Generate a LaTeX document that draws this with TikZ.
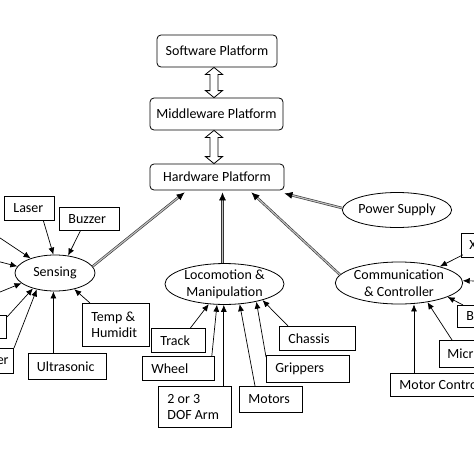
\documentclass[tikz,border=0pt]{standalone}
\usepackage{fontspec}
\setmainfont{Carlito}
\usetikzlibrary{shapes.geometric,arrows.meta,calc}
\begin{document}
\begin{tikzpicture}[x=1pt,y=-1pt,
  font=\fontsize{14}{15.5}\selectfont,
  bx/.style={draw, line width=0.8pt, rectangle, anchor=north west, inner xsep=9pt, inner ysep=0pt, align=flush left},
  plat/.style={draw, line width=0.8pt, rounded corners=4pt, inner sep=0pt, align=center},
  el/.style={draw, line width=0.8pt, ellipse, inner sep=0pt, align=center},
  darr/.style={draw, line width=0.8pt, fill=white, line join=miter},
  arr/.style={line width=0.7pt, -{Latex[length=7pt,width=6pt]}},
  dbl/.style={draw=black!80, line width=0.6pt, double=gray!50, double distance=1.2pt, -{Latex[length=8pt,width=7pt,black]}}
]
\useasboundingbox (0,0) rectangle (474,474);
\fill[white] (0,0) rectangle (474,474);
\clip (0,0) rectangle (474,474);

% platforms
\node[plat, minimum width=120pt, minimum height=32pt] (sw) at (217,51) {Software Platform};
\node[plat, minimum width=133pt, minimum height=32pt] (mw) at (216.5,114) {Middleware Platform};
\node[plat, minimum width=134pt, minimum height=26pt] (hw) at (217,177) {Hardware Platform};

% hollow double arrows between platforms
\coordinate (t1) at ([xshift=-3pt]sw.south);
\coordinate (b1) at ([xshift=-2.5pt]mw.north);
\coordinate (t2) at ([xshift=-2.5pt]mw.south);
\coordinate (b2) at ([xshift=-3pt]hw.north);
\draw[darr] (t1) -- ++(-8.5,7) -- ++(4.5,0) -- ($(b1)+(-4,-7)$) -- ++(-4.5,0) -- (b1)
  -- ++(8.5,-7) -- ++(-4.5,0) -- ($(t1)+(4,7)$) -- ++(4.5,0) -- cycle;
\draw[darr] (t2) -- ++(-8.5,7) -- ++(4.5,0) -- ($(b2)+(-4,-7)$) -- ++(-4.5,0) -- (b2)
  -- ++(8.5,-7) -- ++(-4.5,0) -- ($(t2)+(4,7)$) -- ++(4.5,0) -- cycle;

% ellipses
\node[el, minimum width=80pt, minimum height=36pt] (sens) at (55,273) {Sensing};
\node[el, minimum width=119pt, minimum height=40pt, font=\fontsize{14}{17}\selectfont] (loco) at (224.5,284) {Locomotion \&\\Manipulation};
\node[el, minimum width=116pt, minimum height=42pt, font=\fontsize{14}{17}\selectfont] (comm) at (399,283) {Communication\\\& Controller};
\node[el, minimum width=98pt, minimum height=35pt] (pow) at (397,210) {Power Supply};

% sensing boxes
\node[bx, text width=32pt, minimum height=24pt] (laser) at (4,196) {Laser};
\node[bx, text width=42pt, minimum height=23pt] (buzzer) at (59,207) {Buzzer};
\node[bx, text width=49pt, minimum height=43pt] (temp) at (82,303) {Temp \&\\Humidit};
\node[bx, text width=61pt, minimum height=26pt, inner xsep=8.5pt] (ultra) at (28,353) {Ultrasonic};
\node[bx, anchor=north east, text width=52pt, minimum height=23pt] (la) at (7,315) {};
\node[bx, anchor=north east, align=flush right, inner xsep=5pt, text width=70pt, minimum height=25pt] (lb) at (14,348) {er};
\coordinate (c1) at (-10,231.3);
\coordinate (c2) at (-10,259.3);
\coordinate (c3) at (-10,296.1);

% locomotion boxes
\node[bx, text width=36pt, minimum height=24pt] (track) at (151,328) {Track};
\node[bx, text width=54pt, minimum height=24pt] (wheel) at (142,356) {Wheel};
\node[bx, text width=55pt, minimum height=41pt] (dof) at (158,386) {2 or 3\\DOF Arm};
\node[bx, text width=45pt, minimum height=26pt] (motors) at (239,386) {Motors};
\node[bx, text width=65pt, minimum height=27pt] (grip) at (266,355) {Grippers};
\node[bx, text width=58pt, minimum height=24pt] (chassis) at (279,326) {Chassis};

% communication boxes
\node[bx, text width=102pt, minimum height=23pt] (mc) at (390,373) {Motor Contro};
\node[bx, inner xsep=8pt, text width=44pt, minimum height=27pt] (micr) at (439,340) {Micr};
\node[bx, text width=22pt, minimum height=22pt] (bb) at (457,305) {B};
\node[bx, inner xsep=8pt, text width=24pt, minimum height=24pt] (xb) at (461,233) {X};
\coordinate (c4) at (480,281);

% sensing arrows
\draw[arr] ([xshift=14pt]laser.south) -- (sens.95);
\draw[arr] ([xshift=-9pt]buzzer.south) -- (sens.53);
\draw[arr] ([xshift=8pt]temp.north west) -- (sens.-40);
\draw[arr] ([xshift=-14pt]ultra.north) -- ([xshift=-14pt]ultra.north |- sens.south);
\draw[arr] (lb.north east) -- (sens.-138);
\draw[arr] ([yshift=-2pt]la.north east) -- (sens.-145);
\draw[arr] (c1) -- (sens.149);
\draw[arr] (c2) -- (sens.170);
\draw[arr] (c3) -- (sens.-163);

% locomotion arrows
\draw[arr] ([xshift=12pt]track.north) -- (loco.-128);
\draw[arr] ([xshift=-3pt]wheel.north east) -- (loco.-110);
\draw[arr] ([xshift=-8pt]dof.north east) -- ([xshift=-8pt]dof.north east |- loco.south);
\draw[arr] ([xshift=16pt]motors.north west) -- (loco.-53);
\draw[arr] ([yshift=-2pt]grip.north west) -- (loco.-29);
\draw[arr] ([xshift=9pt]chassis.north west) -- (loco.-23);

% communication arrows
\draw[arr] ([xshift=24pt]mc.north west) -- ([xshift=24pt]mc.north west |- comm.south);
\draw[arr] ([xshift=13pt]micr.north west) -- (comm.-34);
\draw[arr] ([xshift=6pt]bb.north west) -- (comm.-16);
\draw[arr] (c4) -- (comm.2);
\draw[arr] ([xshift=2pt,yshift=3pt]xb.south west) -- (comm.22);

% links to hardware platform
\draw[dbl] (sens.10) -- ([xshift=35pt,yshift=-2pt]hw.south west);
\draw[dbl] ([xshift=-2pt]loco.north) -- ([xshift=-2pt,yshift=-2pt]loco.north |- hw.south);
\draw[dbl] (comm.172) -- ([xshift=-33pt,yshift=-2pt]hw.south east);
\draw[dbl] (pow.178) -- ([yshift=-3pt]hw.south east);
\end{tikzpicture}
\end{document}
